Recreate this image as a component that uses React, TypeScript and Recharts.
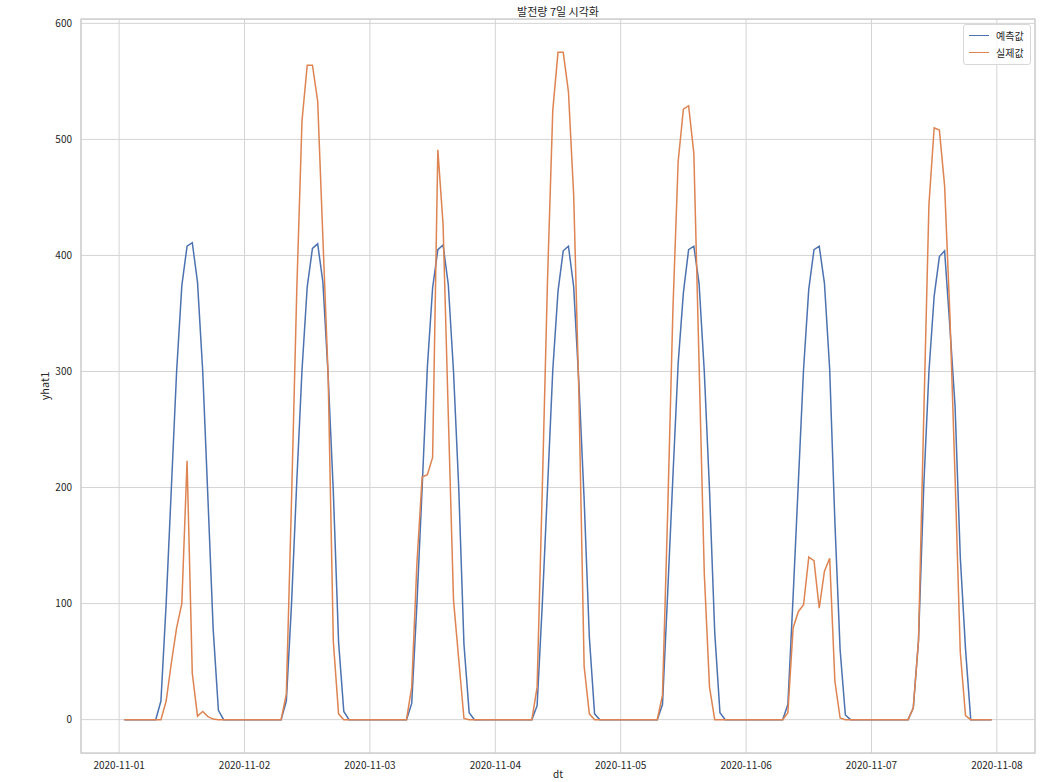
import { LineChart, Line, XAxis, YAxis, CartesianGrid, ReferenceArea } from 'recharts';

// x tick labels (one per day, midnight)
const dates = ['2020-11-01', '2020-11-02', '2020-11-03', '2020-11-04', '2020-11-05', '2020-11-06', '2020-11-07', '2020-11-08'];
const yTicks = [0, 100, 200, 300, 400, 500, 600];

// hourly values, index = hour of day (0..23)
const pred1 = [0, 0, 0, 0, 0, 0, 0, 0, 16, 100, 200, 300, 374, 408, 411, 377, 300, 190, 78, 8, 0, 0, 0, 0];
const pred2 = [0, 0, 0, 0, 0, 0, 0, 0, 16, 100, 205, 301, 373, 406, 410, 377, 297, 196, 67, 7, 0, 0, 0, 0];
const pred3 = [0, 0, 0, 0, 0, 0, 0, 0, 14, 100, 200, 304, 372, 405, 409, 375, 300, 200, 65, 6, 0, 0, 0, 0];
const pred4 = [0, 0, 0, 0, 0, 0, 0, 0, 12, 100, 200, 301, 369, 404, 408, 373, 290, 190, 71, 5, 0, 0, 0, 0];
const pred5 = [0, 0, 0, 0, 0, 0, 0, 0, 13, 110, 210, 307, 368, 405, 408, 376, 300, 198, 75, 6, 0, 0, 0, 0];
const pred6 = [0, 0, 0, 0, 0, 0, 0, 0, 13, 106, 204, 302, 371, 405, 408, 376, 302, 170, 60, 4, 0, 0, 0, 0];
const pred7 = [0, 0, 0, 0, 0, 0, 0, 0, 10, 68, 200, 300, 365, 399, 404, 339, 270, 140, 61, 0, 0, 0, 0, 0];

const real1 = [0, 0, 0, 0, 0, 0, 0, 0, 0, 16, 49, 79, 100, 223, 40, 3, 7, 2.6, 0.5, 0, 0, 0, 0, 0];
const real2 = [0, 0, 0, 0, 0, 0, 0, 0, 22, 190, 370, 516, 564, 564, 533, 415, 297, 67, 5, 0, 0, 0, 0, 0];
const real3 = [0, 0, 0, 0, 0, 0, 0, 0, 28, 135, 209, 211, 226, 491, 427, 263, 103, 52, 1, 0, 0, 0, 0, 0];
const real4 = [0, 0, 0, 0, 0, 0, 0, 0, 28, 200, 380, 525, 575, 575, 541, 452, 280, 46, 5, 0, 0, 0, 0, 0];
const real5 = [0, 0, 0, 0, 0, 0, 0, 0, 21, 180, 354, 481, 526, 529, 488, 307, 126, 28, 0, 0, 0, 0, 0, 0];
const real6 = [0, 0, 0, 0, 0, 0, 0, 0, 6, 79, 93, 99, 140, 137, 96, 128, 139, 33, 1.4, 0, 0, 0, 0, 0];
const real7 = [0, 0, 0, 0, 0, 0, 0, 0, 10, 68, 260, 444, 510, 508, 460, 350, 209, 58, 3.5, 0, 0, 0, 0, 0];

const predDays = [pred1, pred2, pred3, pred4, pred5, pred6, pred7];
const realDays = [real1, real2, real3, real4, real5, real6, real7];

// series starts at 2020-11-01 01:00
const data = predDays.flatMap((day, d) =>
  day.map((v, h) => ({ t: d * 24 + h, pred: v, real: realDays[d][h] }))
).filter(r => r.t >= 1);

const FONT = '"Noto Sans CJK KR", "Noto Sans", sans-serif';
const TEXT = '#262626';
const GRID = '#d4d4d4';

// matplotlib style 5% margins
const tMin = 1, tMax = 167;
const xPad = (tMax - tMin) * 0.05;
const yMax = 575;
const yPad = yMax * 0.05;

const legendItems = [
  { name: '예측값', color: '#4c72b0' },
  { name: '실제값', color: '#dd8452' },
];

function LegendBox() {
  return (
    <div style={{
      position: 'absolute', left: 963, top: 24,
      background: 'rgba(255,255,255,0.8)', border: '1px solid #d8d8d8', borderRadius: 3,
      padding: '2px 6px 3px 5px', fontFamily: FONT, fontSize: 10, color: TEXT,
    }}>
      {legendItems.map(it => (
        <div key={it.name} style={{ display: 'flex', alignItems: 'center', height: 17 }}>
          <span style={{ display: 'inline-block', width: 20, height: 0, borderTop: `1.5px solid ${it.color}`, marginRight: 7 }} />
          <span>{it.name}</span>
        </div>
      ))}
    </div>
  );
}

export default function App() {
  return (
    <div style={{ position: 'absolute', left: 0, top: 0, width: 1059, height: 782, background: '#fff', fontFamily: FONT }}>
      <div style={{ position: 'absolute', top: 3, left: 81, width: 954, textAlign: 'center', fontSize: 11, color: TEXT }}>
        발전량 7일 시각화
      </div>
      <LineChart width={1059} height={782} data={data} margin={{ top: 19, right: 24, bottom: 0, left: 0 }}>
        <CartesianGrid stroke={GRID} strokeWidth={1} />
        <XAxis
          dataKey="t"
          type="number"
          domain={[tMin - xPad, tMax + xPad]}
          ticks={dates.map((_, i) => i * 24)}
          tickFormatter={(v: number) => dates[v / 24]}
          allowDataOverflow
          height={29}
          axisLine={false}
          tickLine={false}
          tickSize={6}
          tickMargin={3}
          tick={{ fill: TEXT, fontSize: 10, fontFamily: FONT }}
          label={{ value: 'dt', position: 'insideBottom', offset: 4, fill: TEXT, fontSize: 10, fontFamily: FONT }}
        />
        <YAxis
          type="number"
          domain={[-yPad, 603.75]}
          ticks={yTicks}
          allowDataOverflow
          width={81}
          axisLine={false}
          tickLine={false}
          tickSize={6}
          tickMargin={3}
          tick={{ fill: TEXT, fontSize: 10, fontFamily: FONT }}
          label={{ value: 'yhat1', angle: -90, position: 'insideLeft', offset: 45, fill: TEXT, fontSize: 11, fontFamily: FONT, style: { textAnchor: 'middle' } }}
        />
        <ReferenceArea
          x1={tMin - xPad}
          x2={tMax + xPad}
          y1={-yPad}
          y2={603.75}
          fill="none"
          stroke="#cccccc"
          strokeWidth={1.25}
          ifOverflow="visible"
        />
        <Line type="linear" dataKey="pred" name="예측값" stroke="#4c72b0" strokeWidth={1.5} dot={false} isAnimationActive={false} />
        <Line type="linear" dataKey="real" name="실제값" stroke="#dd8452" strokeWidth={1.5} dot={false} isAnimationActive={false} />
      </LineChart>
      <LegendBox />
    </div>
  );
}
